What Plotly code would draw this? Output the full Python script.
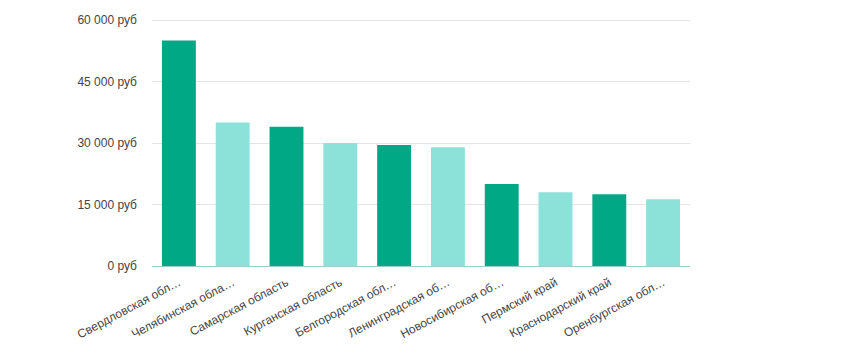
import plotly.graph_objects as go

regions = ["Свердловская обл…", "Челябинская обла…", "Самарская область", "Курганская область",
           "Белгородская обл…", "Ленинградская об…", "Новосибирская об…", "Пермский край",
           "Краснодарский край", "Оренбургская обл…"]
values = [55000, 35000, 34000, 30000, 29500, 29000, 20000, 18000, 17500, 16300]
tick_vals = [0, 15000, 30000, 45000, 60000]
tick_text = ["0 руб", "15 000 руб", "30 000 руб", "45 000 руб", "60 000 руб"]

dark = "#00a886"
light = "#8ce2d8"
colors = [dark if i % 2 == 0 else light for i in range(len(regions))]

fig = go.Figure(go.Bar(x=regions, y=values, marker=dict(color=colors, line=dict(width=0))))
fig.update_layout(
    width=843, height=355,
    margin=dict(l=144, r=161, t=8, b=97, autoexpand=False),
    paper_bgcolor="white", plot_bgcolor="white",
    font=dict(family="Arial, Liberation Sans, sans-serif", color="#444", size=12),
    showlegend=False,
    bargap=0.37,
)
fig.update_yaxes(range=[0, 61000], tickvals=tick_vals, ticktext=tick_text,
                 gridcolor="#e4e4e4", gridwidth=1, zeroline=False, showline=False,
                 ticks="", ticklabelstandoff=14, tickfont=dict(size=12, color="#444"))
fig.update_xaxes(tickangle=-28, showline=True, linecolor="#9ccfc6", linewidth=1,
                 showgrid=False, ticks="", ticklabelstandoff=4,
                 tickfont=dict(size=12, color="#444"))
fig.write_html("out.html")
